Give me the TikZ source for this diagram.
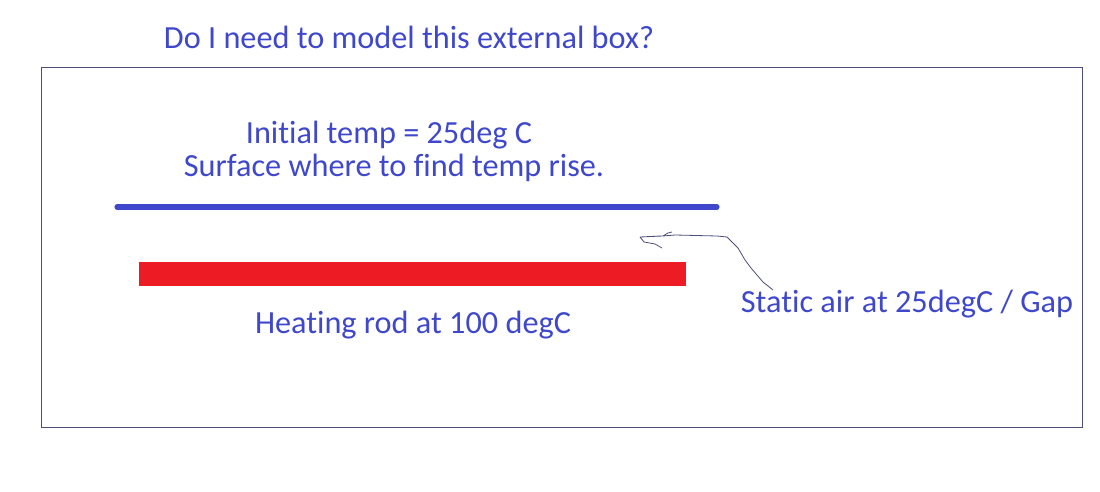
\documentclass[tikz,border=0pt]{standalone}
\usepackage{fontspec}
\setmainfont{Carlito}[Ligatures=NoCommon]
\begin{document}
\begin{tikzpicture}[x=0.75pt,y=-0.75pt,
  lbl/.style={text=txtblue,font=\fontsize{24.2}{28}\selectfont,inner sep=0pt,anchor=base},
  boxline/.style={draw=boxgrey,line width=0.8pt},
  hand/.style={draw=boxgrey,line width=0.6pt,line join=round}]
\definecolor{txtblue}{HTML}{3F48CC}
\definecolor{boxgrey}{HTML}{4B4E7A}
\definecolor{rodred}{HTML}{ED1C24}
\useasboundingbox[fill=white] (0,0) rectangle (1100,492);
\node[boxline,minimum width=780.75pt,minimum height=270pt,inner sep=0pt,anchor=north west] (outer) at (40.5,67) {};
\node[lbl] (title) at (409,49) {Do I need to model this external box?};
\node[lbl] (init) at (389,143) {Initial temp = 25deg C};
\node[lbl] (surf) at (394,176) {Surface where to find temp rise.};
\coordinate (sL) at (117,207);
\coordinate (sR) at (717,207);
\draw[draw=txtblue,line width=3.8pt,line cap=round] (sL) -- (sR);
\node[fill=rodred,inner sep=0pt,minimum width=410.25pt,minimum height=18pt,anchor=north west] (rod) at (139,262) {};
\node[lbl] (heat) at (413,333) {Heating rod at 100 degC};
\node[lbl] (air) at (907,312) {Static air at 25degC / Gap};
\coordinate (c0) at (773,290);
\coordinate (tip) at (640,237);
\draw[hand] (c0) -- (763,282) -- (751,268) -- (745,260) -- (738,248) -- (727,237) -- (717,236) -- (675,235) -- (663,236) -- (tip)
  (tip) -- (660,236)
  (tip) -- (644,242) -- (655,244) -- (662,248)
  (663,236) -- (668,233) -- (672,232);
\end{tikzpicture}
\end{document}
